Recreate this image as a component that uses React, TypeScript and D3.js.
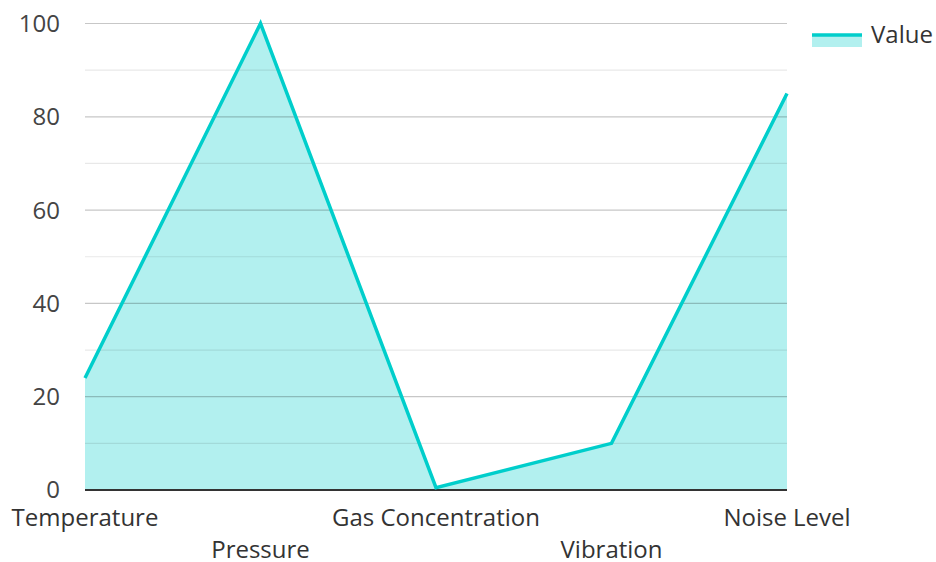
import React from 'react';
import * as d3 from 'd3';

const categories = ['Temperature', 'Pressure', 'Gas Concentration', 'Vibration', 'Noise Level'];
const values = [24, 100, 0.5, 10, 85];
const majorTicks = [0, 20, 40, 60, 80, 100];
const minorTicks = [10, 30, 50, 70, 90];
const seriesName = 'Value';

const LINE = '#00cecb';
const FILL = 'rgba(0, 206, 203, 0.3)';
const FONT = '"Open Sans", "Noto Sans", sans-serif';

const App: React.FC = () => {
  const width = 936;
  const height = 562;
  const margin = { top: 23.5, right: 149, bottom: 72, left: 85 };

  const x = d3.scalePoint<string>()
    .domain(categories)
    .range([margin.left, width - margin.right]);
  const y = d3.scaleLinear()
    .domain([0, 100])
    .range([height - margin.bottom, margin.top]);

  const pts = categories.map((c, i) => [x(c) as number, values[i]] as [number, number]);
  const line = d3.line<[number, number]>().x(d => d[0]).y(d => y(d[1]));
  const area = d3.area<[number, number]>().x(d => d[0]).y0(y(0)).y1(d => y(d[1]));

  const x0 = margin.left;
  const x1 = width - margin.right;

  return (
    <svg width={width} height={height} style={{ position: 'absolute', left: 0, top: 0, fontFamily: FONT }}>
      <path d={area(pts) ?? ''} fill={FILL} />
      {minorTicks.map(t => (
        <line key={'m' + t} x1={x0} x2={x1} y1={y(t)} y2={y(t)} stroke="rgba(0,0,0,0.09)" strokeWidth={1.2} />
      ))}
      {majorTicks.filter(t => t > 0).map(t => (
        <line key={'M' + t} x1={x0} x2={x1} y1={y(t)} y2={y(t)} stroke="rgba(0,0,0,0.22)" strokeWidth={1.2} />
      ))}
      <line x1={x0} x2={x1} y1={y(0)} y2={y(0)} stroke="#333" strokeWidth={2} />
      <path d={line(pts) ?? ''} fill="none" stroke={LINE} strokeWidth={3.5} strokeLinejoin="miter" />
      {majorTicks.map(t => (
        <text key={'y' + t} x={60} y={y(t)} dy="0.35em" textAnchor="end" fontSize={24} fill="#444">{t}</text>
      ))}
      {categories.map((c, i) => (
        <text key={c} x={x(c) as number} y={i % 2 === 0 ? 526 : 558} textAnchor="middle" fontSize={24} fill="#333">{c}</text>
      ))}
      <g>
        <rect x={812} y={34} width={50} height={13} fill={FILL} />
        <line x1={812} x2={862} y1={35} y2={35} stroke={LINE} strokeWidth={3.5} />
        <text x={871} y={35} dy="0.35em" fontSize={24} fill="#333">{seriesName}</text>
      </g>
    </svg>
  );
};

export default App;
